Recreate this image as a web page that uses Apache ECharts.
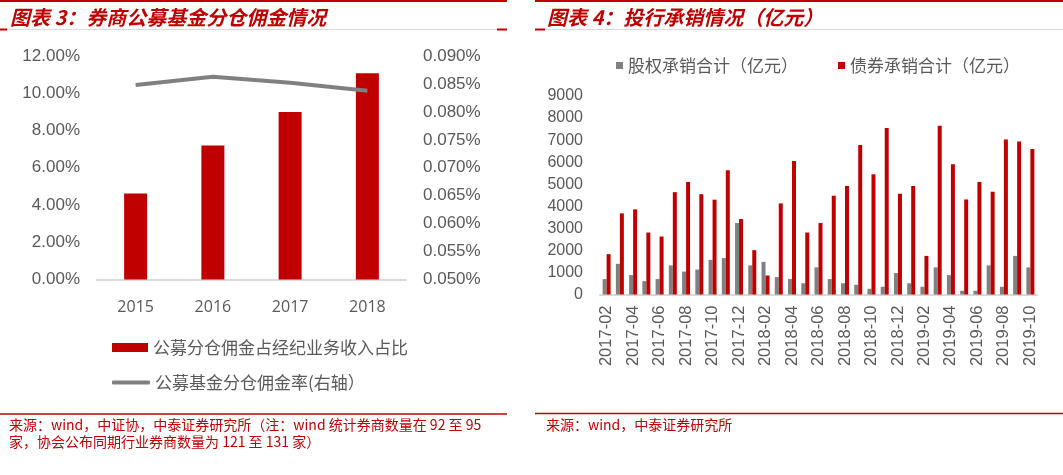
<!DOCTYPE html>
<html>
<head>
<meta charset="utf-8">
<script src="https://cdn.jsdelivr.net/npm/echarts@6/dist/echarts.min.js"></script>
<style>
html,body{margin:0;padding:0;background:#fff;}
#c{width:1063px;height:475px;}
</style>
</head>
<body>
<div id="c"></div>
<script>
// ---- Left chart data (图表3) ----
const leftYears = ['2015', '2016', '2017', '2018'];
const commissionShare = [4.62, 7.2, 9.0, 11.07];          // % 公募分仓佣金占经纪业务收入占比
const commissionRate = [0.0848, 0.0863, 0.0852, 0.0838];  // % 公募基金分仓佣金率(右轴）

// ---- Right chart data (图表4) ----
const months = ['2017-02','2017-03','2017-04','2017-05','2017-06','2017-07','2017-08','2017-09','2017-10','2017-11','2017-12',
  '2018-01','2018-02','2018-03','2018-04','2018-05','2018-06','2018-07','2018-08','2018-09','2018-10','2018-11','2018-12',
  '2019-01','2019-02','2019-03','2019-04','2019-05','2019-06','2019-07','2019-08','2019-09','2019-10'];
const equityUW = [700,1390,880,605,700,1320,1040,1130,1570,1650,3240,1320,1480,790,700,510,1230,700,510,440,260,350,970,510,350,1230,880,170,170,1320,350,1750,1230];
const bondUW = [1830,3680,3860,2810,2630,4640,5100,4550,4300,5630,3420,2010,860,4130,6050,2810,3240,4480,4920,6780,5450,7550,4570,4920,1750,7650,5900,4310,5100,4660,7030,6940,6600];

const RED = '#C00000', GRAY = '#808080', TXT = '#595959', AX = '#D9D9D9';
const CJK = '"Noto Sans CJK SC", sans-serif';

const chart = echarts.init(document.getElementById('c'), null, {renderer: 'canvas'});

function line(x1, y1, x2, y2, color, w) {
  return {type: 'line', silent: true, shape: {x1, y1, x2, y2}, style: {stroke: color, lineWidth: w}};
}
function txt(x, y, text, font, color) {
  return {type: 'text', silent: true, x, y, style: {text, font, fill: color, textVerticalAlign: 'middle'}};
}

const option = {
  animation: false,
  backgroundColor: '#fff',
  graphic: [
    // top red lines
    line(0, 1, 507, 1, RED, 2),
    line(535, 1, 1063, 1, RED, 2),
    // title underlines
    line(0, 29.5, 507, 29.5, '#E3D8D5', 1),
    line(0, 29.5, 7, 29.5, RED, 2),
    line(497, 29.5, 507, 29.5, RED, 2),
    line(535, 29.5, 1063, 29.5, '#E3D8D5', 1),
    line(535, 29.5, 545, 29.5, RED, 2),
    // titles
    txt(10, 17, '图表 3：券商公募基金分仓佣金情况', 'italic bold 20px ' + CJK, RED),
    txt(547, 17, '图表 4：投行承销情况（亿元）', 'italic bold 20px ' + CJK, RED),
    // source lines
    line(0, 414, 507, 414, RED, 1.5),
    line(535, 413.5, 1063, 413.5, RED, 1.5),
    txt(9, 425, '来源：wind，中证协，中泰证券研究所（注：wind 统计券商数量在 92 至 95', '14px ' + CJK, RED),
    txt(9, 442, '家，协会公布同期行业券商数量为 121 至 131 家）', '14px ' + CJK, RED),
    txt(546, 425, '来源：wind，中泰证券研究所', '14px ' + CJK, RED)
  ],
  legend: [
    {
      data: [{name: '公募分仓佣金占经纪业务收入占比', icon: 'rect'}],
      left: 107, top: 334, itemWidth: 36, itemHeight: 9, itemGap: 5,
      textStyle: {color: TXT, fontSize: 17, fontFamily: CJK}
    },
    {
      data: [{name: '公募基金分仓佣金率(右轴）', icon: 'roundRect'}],
      left: 107, top: 369, itemWidth: 38, itemHeight: 4, itemGap: 5,
      textStyle: {color: TXT, fontSize: 17, fontFamily: CJK}
    },
    {
      data: [{name: '股权承销合计（亿元）', icon: 'rect'}, {name: '债券承销合计（亿元）', icon: 'rect'}],
      left: 611, top: 52, itemWidth: 7, itemHeight: 7, itemGap: 40,
      textStyle: {color: TXT, fontSize: 17, fontFamily: CJK}
    }
  ],
  grid: [
    {left: 97, right: 1063 - 406, top: 56, bottom: 475 - 279.5, containLabel: false},
    {left: 600, right: 1063 - 1037, top: 96, bottom: 475 - 294.5, containLabel: false}
  ],
  xAxis: [
    {
      type: 'category', gridIndex: 0, data: leftYears,
      axisLine: {lineStyle: {color: AX, width: 2}}, axisTick: {show: false},
      axisLabel: {color: TXT, fontSize: 16, fontFamily: '"Open Sans", sans-serif', margin: 20}
    },
    {
      type: 'category', gridIndex: 1, data: months,
      axisLine: {lineStyle: {color: AX, width: 2}}, axisTick: {show: false},
      axisLabel: {color: TXT, fontSize: 16.5, fontFamily: '"Liberation Sans", Arial, sans-serif', rotate: 90, interval: 1, margin: 11}
    }
  ],
  yAxis: [
    {
      type: 'value', gridIndex: 0, min: 0, max: 12, interval: 2,
      splitLine: {show: false}, axisLine: {show: false}, axisTick: {show: false},
      axisLabel: {color: TXT, fontSize: 17, fontFamily: '"Liberation Sans", Arial, sans-serif', margin: 17,
        formatter: v => v.toFixed(2) + '%'}
    },
    {
      type: 'value', gridIndex: 0, position: 'right', min: 0.05, max: 0.09, interval: 0.005,
      splitLine: {show: false}, axisLine: {show: false}, axisTick: {show: false},
      axisLabel: {color: TXT, fontSize: 17, fontFamily: '"Liberation Sans", Arial, sans-serif', margin: 17,
        formatter: v => v.toFixed(3) + '%'}
    },
    {
      type: 'value', gridIndex: 1, min: 0, max: 9000, interval: 1000,
      splitLine: {show: false}, axisLine: {show: false}, axisTick: {show: false},
      axisLabel: {color: TXT, fontSize: 16, fontFamily: '"Liberation Sans", Arial, sans-serif', margin: 17,
        padding: [5, 0, 0, 0], formatter: v => String(Math.round(v))}
    }
  ],
  series: [
    {
      name: '公募分仓佣金占经纪业务收入占比', type: 'bar', xAxisIndex: 0, yAxisIndex: 0,
      data: commissionShare, barWidth: 23, itemStyle: {color: RED}
    },
    {
      name: '公募基金分仓佣金率(右轴）', type: 'line', xAxisIndex: 0, yAxisIndex: 1,
      data: commissionRate, symbol: 'none', lineStyle: {color: GRAY, width: 4}, itemStyle: {color: GRAY}
    },
    {
      name: '股权承销合计（亿元）', type: 'bar', xAxisIndex: 1, yAxisIndex: 2,
      data: equityUW, barWidth: 4, barGap: '0%', itemStyle: {color: GRAY}
    },
    {
      name: '债券承销合计（亿元）', type: 'bar', xAxisIndex: 1, yAxisIndex: 2,
      data: bondUW, barWidth: 4, barGap: '0%', itemStyle: {color: RED}
    }
  ]
};
chart.setOption(option);
</script>
</body>
</html>
